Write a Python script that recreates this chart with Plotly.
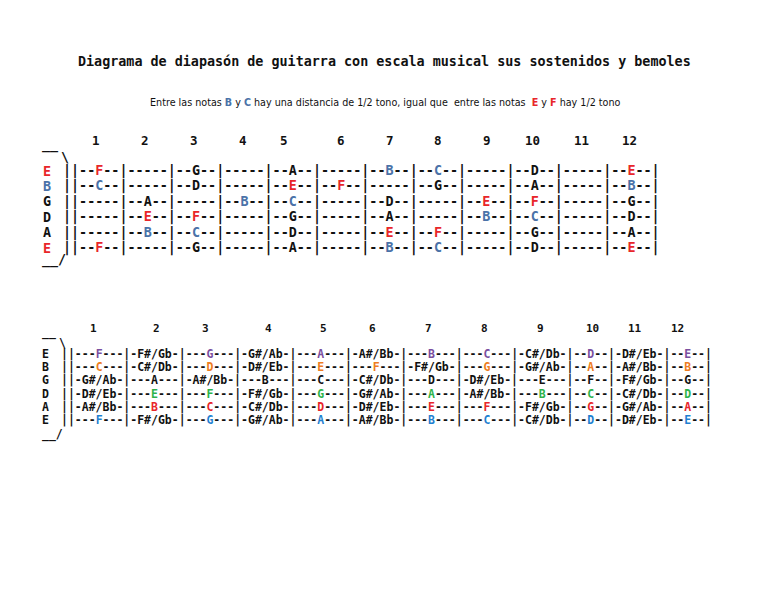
import plotly.graph_objects as go

TITLE = "Diagrama de diapasón de guitarra con escala musical sus sostenidos y bemoles"
FRETS = [str(i) for i in range(1, 13)]
STRINGS = ["E", "B", "G", "D", "A", "E"]

# first diagram: natural notes only ('' = empty fret)
NATURAL_ROWS = [
    ["F", "", "G", "", "A", "", "B", "C", "", "D", "", "E"],
    ["C", "", "D", "", "E", "F", "", "G", "", "A", "", "B"],
    ["", "A", "", "B", "C", "", "D", "", "E", "F", "", "G"],
    ["", "E", "F", "", "G", "", "A", "", "B", "C", "", "D"],
    ["", "B", "C", "", "D", "", "E", "F", "", "G", "", "A"],
    ["F", "", "G", "", "A", "", "B", "C", "", "D", "", "E"],
]
# fret-number x positions (pixels) as they appear in the reference
FRET_X_TOP = [96, 145, 194, 243, 284, 341, 390, 438, 487, 532, 581, 629]

# second diagram: chromatic notes
CHROMA_ROWS = [
    ["F", "F#/Gb", "G", "G#/Ab", "A", "A#/Bb", "B", "C", "C#/Db", "D", "D#/Eb", "E"],
    ["C", "C#/Db", "D", "D#/Eb", "E", "F", "F#/Gb", "G", "G#/Ab", "A", "A#/Bb", "B"],
    ["G#/Ab", "A", "A#/Bb", "B", "C", "C#/Db", "D", "D#/Eb", "E", "F", "F#/Gb", "G"],
    ["D#/Eb", "E", "F", "F#/Gb", "G", "G#/Ab", "A", "A#/Bb", "B", "C", "C#/Db", "D"],
    ["A#/Bb", "B", "C", "C#/Db", "D", "D#/Eb", "E", "F", "F#/Gb", "G", "G#/Ab", "A"],
    ["F", "F#/Gb", "G", "G#/Ab", "A", "A#/Bb", "B", "C", "C#/Db", "D", "D#/Eb", "E"],
]
FRET_X_BOT = [93, 156, 205, 268, 323, 372, 428, 484, 540, 592, 635, 677]

TOP_COLORS = {"E": "#e8262a", "F": "#e8262a", "B": "#4a72a8", "C": "#4a72a8"}
ROW_COLORS = ["#7a4fa0", "#ee7d22", "#111111", "#2db34a", "#e8262a", "#1f7fd0"]
TOP_LABEL_COLORS = ["#e8262a", "#4a72a8", "#111", "#111", "#111", "#e8262a"]

MONO = "DejaVu Sans Mono"
OFF = 8  # page body margin


def span(txt, color):
    return f"<span style='color:{color}'>{txt}</span>"


def top_row(notes):
    s = "||"
    for n in notes:
        if n:
            s += "--" + span(n, TOP_COLORS.get(n, "#111")) + "--|"
        else:
            s += "-----|"
    return s


def bot_row(notes, color):
    s = "||"
    for i, n in enumerate(notes):
        if "#" in n:
            s += "-" + n + "-|"
        elif i in (9, 11):
            s += "--" + span(n, color) + "--|"
        else:
            s += "---" + span(n, color) + "---|"
    return s


fig = go.Figure()
ann = []


def txt(x, y, t, size, color="#111", anchor="left", family=MONO, bold=True):
    ann.append(dict(x=x - OFF, y=y - OFF, xref="x", yref="y", text=f"<b>{t}</b>" if bold else t,
                    showarrow=False, xanchor=anchor, yanchor="middle",
                    font=dict(family=family, size=size, color=color)))


txt(384, 61, TITLE, 13.4, anchor="center")
sub = ("Entre las notas " + "<b>" + span("B", "#4a72a8") + "</b> y <b>" + span("C", "#4a72a8") +
       "</b> hay una distancia de 1/2 tono, igual que  entre las notas  <b>" + span("E", "#e8262a") +
       "</b> y <b>" + span("F", "#e8262a") + "</b> hay 1/2 tono")
txt(385, 102, sub, 9.6, anchor="center", family="DejaVu Sans", bold=False)

# top diagram
for f, x in zip(FRETS, FRET_X_TOP):
    txt(x, 140, f, 12.5, anchor="center")
txt(40, 145, "__", 13.4)
txt(59, 157, "\\", 13.4)
txt(40, 260, "__/", 13.4)
for i, (lab, notes) in enumerate(zip(STRINGS, NATURAL_ROWS)):
    y = 171 + i * 15.4
    txt(41, y, lab, 13.4, TOP_LABEL_COLORS[i])
    txt(61, y, top_row(notes), 13.4)

# bottom diagram
for f, x in zip(FRETS, FRET_X_BOT):
    txt(x, 328, f, 11, anchor="center")
txt(40, 332, "__", 11.5)
txt(57, 343, "\\", 11.5)
txt(40, 434, "__/", 11.5)
for i, (lab, notes) in enumerate(zip(STRINGS, CHROMA_ROWS)):
    y = 354 + i * 13.2
    txt(40, y, lab, 11.5)
    txt(59, y, bot_row(notes, ROW_COLORS[i] if i != 2 else "#111"), 11.5)

fig.update_layout(
    width=768, height=594, margin=dict(l=0, r=0, t=0, b=0),
    paper_bgcolor="white", plot_bgcolor="white", annotations=ann,
    xaxis=dict(range=[0, 768], visible=False, fixedrange=True),
    yaxis=dict(range=[594, 0], visible=False, fixedrange=True),
    showlegend=False,
)
fig.write_html("out.html")
